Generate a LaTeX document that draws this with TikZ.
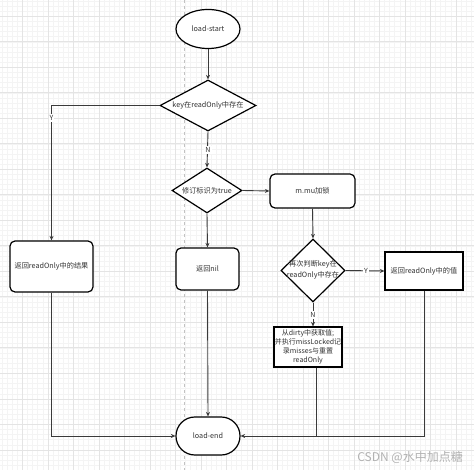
\documentclass[tikz,border=0pt]{standalone}
\usepackage{fontspec}
\setmainfont{Noto Sans CJK SC}
\usetikzlibrary{shapes.geometric,arrows.meta}
\definecolor{gridmin}{HTML}{F4F4F4}
\definecolor{gridmaj}{HTML}{E4E4E4}
\definecolor{ink}{HTML}{333333}
\definecolor{conn}{HTML}{3A3A3A}
\tikzset{
  base/.style={draw=black, line width=1.2pt, fill=white, text=ink, inner sep=0pt, font=\fontsize{7.2}{8.5}\selectfont, align=center},
  rbox/.style={base, rectangle, rounded corners=5pt},
  sbox/.style={base, rectangle},
  dia/.style={base, diamond},
  term/.style={base, ellipse},
  stad/.style={base, rectangle, rounded corners=18.9pt},
  conn/.style={draw=conn, line width=0.9pt},
  arr/.style={conn, -{Stealth[length=4.5pt,width=4pt]}},
  lbl/.style={fill=white, text=ink, inner sep=1pt, font=\fontsize{7}{8}\selectfont},
  dtext/.style={text=ink, inner sep=0pt, font=\fontsize{7.2}{8.5}\selectfont, align=center}
}
\begin{document}
\begin{tikzpicture}[x=1pt,y=-1pt]
\useasboundingbox (0,0) rectangle (474,470);
\fill[white] (0,0) rectangle (474,470);
% grid
\foreach \i in {0,...,95} {
  \draw[gridmin, line width=0.4pt] ({-3.2+\i*5.1},0) -- ++(0,470);
  \draw[gridmin, line width=0.4pt] (0,{-9.2+\i*5.1}) -- ++(474,0);
}
\foreach \i in {-1,...,19} {
  \draw[gridmaj, line width=0.6pt] ({22.3+\i*25.5},0) -- ++(0,470);
  \draw[gridmaj, line width=0.6pt] (0,{16.3+\i*25.5}) -- ++(474,0);
}
\draw[gridmaj!85!black, dashed, line width=0.4pt] (184.5,0) -- (184.5,470);

% nodes
\node[term, minimum width=64pt, minimum height=39pt] (ls) at (208,29) {load-start};
\node[dia, minimum width=96pt, minimum height=51pt] (d1) at (208,105.5) {};
\node[dtext] (d1t) at (208,105.5) {key在readOnly中存在};
\node[rbox, minimum width=83pt, minimum height=51pt] (b1) at (51.5,266.5) {返回readOnly中的结果};
\node[dia, minimum width=70pt, minimum height=45pt] (d2) at (207,190.5) {};
\node[dtext] (d2t) at (207,190.5) {修订标识为true};
\node[rbox, minimum width=85pt, minimum height=34pt] (mm) at (312.5,191) {m.mu加锁};
\node[rbox, minimum width=63pt, minimum height=42pt] (nil) at (207.5,269) {返回nil};
\node[dia, minimum width=64pt, minimum height=63pt] (d3) at (313,270.5) {};
\node[dtext, font=\fontsize{7.2}{11}\selectfont] (d3t) at (313,270) {再次判断key在\\readOnly中存在};
\node[sbox, minimum width=78pt, minimum height=38pt] (rv) at (424,271) {返回readOnly中的值};
\node[sbox, minimum width=68pt, minimum height=40pt, font=\fontsize{7}{9}\selectfont] (dt) at (308,347) {从dirty中获取值;\\并执行missLocked记\\录misses与重置\\readOnly};
\node[stad, minimum width=64pt, minimum height=38pt] (le) at (208,436) {load-end};

% connectors
\draw[arr] (ls.south) -- (d1.north);
\draw[arr] (d1.west) -| (b1.north);
\node[lbl] (ly1) at (51.5,118) {Y};
\draw[arr] (d1.south) -- (d2.north);
\node[lbl] (ln1) at (208,150) {N};
\draw[arr] (d2.east) -- (mm.west);
\draw[arr] (d2.south) -- (nil.north);
\draw[arr] (mm.south) -- (d3.north);
\draw[arr] (d3.east) -- (rv.west);
\node[lbl] (ly2) at (366,270.5) {Y};
\draw[arr] (d3.south) -- (d3.south |- dt.north);
\node[lbl] (ln2) at (313,315) {N};
\draw[arr] (b1.south) |- (le.west);
\draw[arr] (nil.south) -- (le.north);
\draw[arr] (rv.south) |- (le.east);
\coordinate (dtj) at ([xshift=8pt]dt.south |- le.east);
\draw[conn] ([xshift=8pt]dt.south) -- (dtj);

% watermark
\node[text=gray!60, font=\fontsize{12}{13}\selectfont, anchor=east, inner sep=0pt] (wm) at (463,457) {CSDN @水中加点糖};
\end{tikzpicture}
\end{document}
